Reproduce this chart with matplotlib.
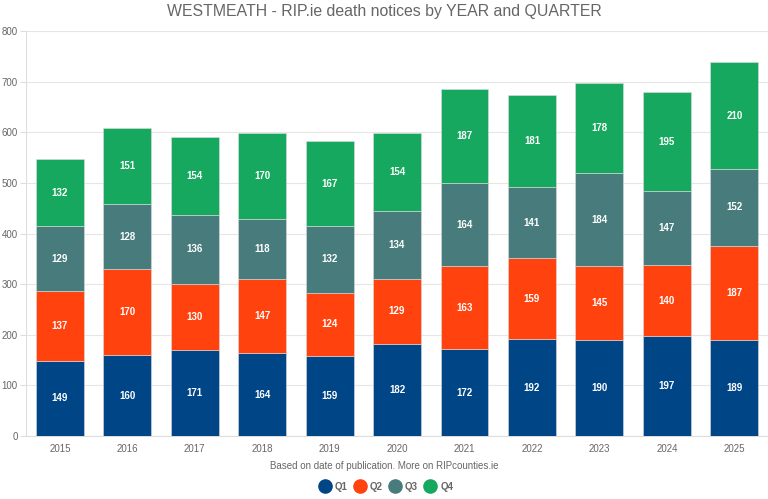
import matplotlib.pyplot as plt
import numpy as np
from matplotlib.lines import Line2D

plt.rcParams['font.family'] = ['Liberation Sans', 'DejaVu Sans']

years = ['2015', '2016', '2017', '2018', '2019', '2020', '2021', '2022', '2023', '2024', '2025']
q1 = [149, 160, 171, 164, 159, 182, 172, 192, 190, 197, 189]
q2 = [137, 170, 130, 147, 124, 129, 163, 159, 145, 140, 187]
q3 = [129, 128, 136, 118, 132, 134, 164, 141, 184, 147, 152]
q4 = [132, 151, 154, 170, 167, 154, 187, 181, 178, 195, 210]
quarters = ['Q1', 'Q2', 'Q3', 'Q4']
colors = ['#004586', '#ff420e', '#477b7c', '#17a85f']

fig = plt.figure(figsize=(7.68, 4.99), dpi=100)
ax = fig.add_axes([0.034, 0.126, 0.966, 0.812])

x = np.arange(len(years))
bottom = np.zeros(len(years))
for vals, col in zip([q1, q2, q3, q4], colors):
    vals = np.array(vals)
    ax.bar(x, vals, 0.71, bottom=bottom, color=col, edgecolor='#dddddd', linewidth=0.4, zorder=3)
    for xi, b, v in zip(x, bottom, vals):
        ax.text(xi, b + v / 2, str(v), ha='center', va='center', color='white',
                fontsize=7, fontweight='bold', zorder=4)
    bottom += vals

ax.set_xlim(-0.5, len(years) - 0.5)
ax.set_ylim(0, 800)
ax.set_yticks(range(0, 801, 100))
ax.set_xticks(x)
ax.set_xticklabels(years)
ax.grid(axis='y', color='#e6e6e6', linewidth=0.8, zorder=0)
ax.tick_params(axis='both', labelsize=7, colors='#666666', length=0, pad=6)
ax.tick_params(axis='y', length=4, color='#dddddd', pad=2)
for s in ['top', 'right']:
    ax.spines[s].set_visible(False)
ax.spines['left'].set_color('#dddddd')
ax.spines['bottom'].set_color('#dddddd')

fig.text(0.5, 0.976, 'WESTMEATH - RIP.ie death notices by YEAR and QUARTER',
         ha='center', va='center', fontsize=11.4, color='#666666')
fig.text(0.5, 0.067, 'Based on date of publication. More on RIPcounties.ie',
         ha='center', va='center', fontsize=7, color='#666666')

handles = [Line2D([], [], marker='o', linestyle='', markersize=9.5, markerfacecolor=c,
                  markeredgecolor=c) for c in colors]
leg = fig.legend(handles, quarters, loc='center', bbox_to_anchor=(0.5, 0.025), ncol=4,
                 frameon=False, fontsize=7, handletextpad=0.0, columnspacing=0.3)
for t in leg.get_texts():
    t.set_color('#666666')
    t.set_fontweight('bold')

fig.savefig('out.png', dpi=100)
